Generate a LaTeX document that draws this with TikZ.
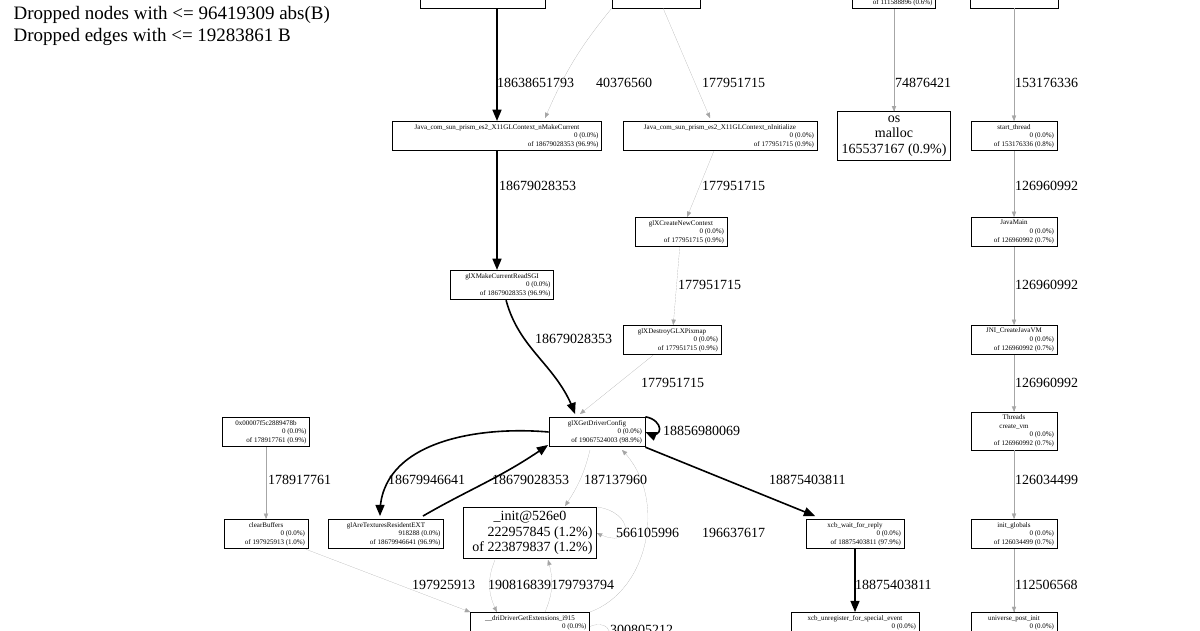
\documentclass[tikz,border=0pt]{standalone}
\usepackage{fontspec}
\setmainfont{Liberation Serif}
\usetikzlibrary{arrows}
\tikzset{
  fn/.style={draw, thick, font=\fontsize{7}{8.6}\selectfont, align=right, inner sep=3pt},
  big/.style={draw, thick, font=\fontsize{14}{15.5}\selectfont, align=center, inner sep=4pt},
  lbl/.style={font=\fontsize{14}{16}\selectfont, anchor=west, inner sep=0pt},
  hot/.style={-triangle 45, line width=1.6pt},
  cold/.style={-triangle 45, line width=0.15pt, draw=black!35},
}
\begin{document}
\begin{tikzpicture}[x=1pt,y=-1pt]
  \useasboundingbox (0,0) rectangle (1200,630);

  \node[anchor=west, font=\fontsize{19}{22}\selectfont, align=left] (hdr) at (10,26)
    {Dropped nodes with <= 96419309 abs(B)\\Dropped edges with <= 19283861 B};

  % cropped nodes along the top
  \node[draw, thick, minimum width=125pt, minimum height=20pt] (top1) at (483,-2) {};
  \node[draw, thick, minimum width=88pt, minimum height=20pt] (top2) at (656,-2) {};
  \node[fn, anchor=south] (top3) at (894,9) {\makebox[77pt]{}\\of 111588896 (0.6\%)};
  \node[draw, thick, minimum width=88pt, minimum height=20pt] (top4) at (1014,-2) {};

  \node[fn] (mkcur) at (497,136) {\makebox[203pt]{Java\_com\_sun\_prism\_es2\_X11GLContext\_nMakeCurrent}\\0 (0.0\%)\\of 18679028353 (96.9\%)};
  \node[fn] (ninit) at (720,136) {\makebox[188pt]{Java\_com\_sun\_prism\_es2\_X11GLContext\_nInitialize}\\0 (0.0\%)\\of 177951715 (0.9\%)};
  \node[big] (malloc) at (894,136) {os\\malloc\\165537167 (0.9\%)};
  \node[fn] (start) at (1014,136) {\makebox[80pt]{start\_thread}\\0 (0.0\%)\\of 153176336 (0.8\%)};

  \node[fn] (newctx) at (681,232) {\makebox[86pt]{glXCreateNewContext}\\0 (0.0\%)\\of 177951715 (0.9\%)};
  \node[fn] (jmain) at (1014,232) {\makebox[80pt]{JavaMain}\\0 (0.0\%)\\of 126960992 (0.7\%)};
  \node[fn] (sgi) at (502,285) {\makebox[97pt]{glXMakeCurrentReadSGI}\\0 (0.0\%)\\of 18679028353 (96.9\%)};
  \node[fn] (pixmap) at (672,340) {\makebox[92pt]{glXDestroyGLXPixmap}\\0 (0.0\%)\\of 177951715 (0.9\%)};
  \node[fn] (jni) at (1014,340) {\makebox[80pt]{JNI\_CreateJavaVM}\\0 (0.0\%)\\of 126960992 (0.7\%)};

  \node[fn] (addr) at (266,432) {\makebox[81pt]{0x00007f5c2889478b}\\0 (0.0\%)\\of 178917761 (0.9\%)};
  \node[fn] (drvcfg) at (597,432) {\makebox[90pt]{glXGetDriverConfig}\\0 (0.0\%)\\of 19067524003 (98.9\%)};
  \node[fn] (thr) at (1014,431) {\makebox[80pt]{Threads}\\\makebox[80pt]{create\_vm}\\0 (0.0\%)\\of 126960992 (0.7\%)};

  \node[fn] (clear) at (266,534) {\makebox[78pt]{clearBuffers}\\0 (0.0\%)\\of 197925913 (1.0\%)};
  \node[fn] (artex) at (386,534) {\makebox[109pt]{glAreTexturesResidentEXT}\\918288 (0.0\%)\\of 18679946641 (96.9\%)};
  \node[big, align=right] (init) at (530,533) {\makebox[125pt]{\_init@526e0}\\222957845 (1.2\%)\\of 223879837 (1.2\%)};
  \node[fn] (xcbwait) at (855,534) {\makebox[92pt]{xcb\_wait\_for\_reply}\\0 (0.0\%)\\of 18875403811 (97.9\%)};
  \node[fn] (initg) at (1014,534) {\makebox[80pt]{init\_globals}\\0 (0.0\%)\\of 126034499 (0.7\%)};

  \node[fn, anchor=north] (dri) at (530,612) {\makebox[113pt]{\_\_driDriverGetExtensions\_i915}\\0 (0.0\%)\\of 0};
  \node[fn, anchor=north] (unreg) at (855,612) {\makebox[122pt]{xcb\_unregister\_for\_special\_event}\\0 (0.0\%)\\of 0};
  \node[fn, anchor=north] (upost) at (1014,612) {\makebox[80pt]{universe\_post\_init}\\0 (0.0\%)\\of 0};

  % edges
  \draw[hot] (top1.south -| mkcur.north) -- (mkcur.north);
  \draw[cold] (top2.south west) to[bend right=8] (545,118);
  \draw[cold] (663,8) -- (710,118);
  \draw[cold] (top3.south) -- (malloc.north);
  \draw[cold] (top4.south) -- (start.north);
  \draw[hot] (mkcur) -- (sgi.north -| mkcur);
  \draw[cold] (ninit) -- (newctx);
  \draw[cold] (start) -- (jmain);
  \draw[cold] (newctx) -- (pixmap);
  \draw[cold] (jmain) -- (jni);
  \draw[hot] (sgi) to[out=-75, in=110] (575,414);
  \draw[cold] (pixmap) -- (580,414);
  \draw[cold] (jni) -- (thr);
  \draw[hot] (drvcfg.north east) .. controls (664,420) and (664,440) .. (drvcfg.east);
  \draw[cold] (addr) -- (clear);
  \draw[hot] (drvcfg.west) to[out=175, in=90] (380,516);
  \draw[hot] (423,516) to[out=30, in=215] (548,445);
  \draw[cold] (590,450) to[bend left=10] (565,506);
  \draw[hot] (drvcfg.south east) -- (815,516);
  \draw[cold] (thr) -- (initg);
  \draw[cold] (dri.north east) to[out=20, in=-45] (622,450);
  \draw[cold] (init.north east) .. controls (635,512) and (635,552) .. (init.east);
  \draw[cold] (clear) -- (dri.north west);
  \draw[cold] (495,560) to[bend right=25] (497,612);
  \draw[cold] (545,612) to[bend right=20] (548,560);
  \draw[hot] (xcbwait) -- (unreg);
  \draw[cold] (initg) -- (upost);
  \draw[cold] (dri.east) .. controls (610,618) and (620,640) .. (595,650);

  % edge labels
  \foreach \t/\x/\y in {18638651793/497/83, 40376560/596/83, 177951715/702/83,
      74876421/895/83, 153176336/1015/83, 18679028353/499/186, 177951715/702/186,
      126960992/1015/186, 177951715/678/285, 126960992/1015/285, 18679028353/535/339,
      177951715/641/383, 126960992/1015/383, 18856980069/663/431, 178917761/268/480,
      18679946641/388/480, 18679028353/492/480, 187137960/584/480, 18875403811/769/480,
      126034499/1015/480, 566105996/616/533, 196637617/702/533, 197925913/412/585,
      190816839/488/585, 179793794/551/585, 18875403811/855/585, 112506568/1015/585,
      300805212/610/630}
    \node[lbl] at (\x,\y) {\t};
\end{tikzpicture}
\end{document}
